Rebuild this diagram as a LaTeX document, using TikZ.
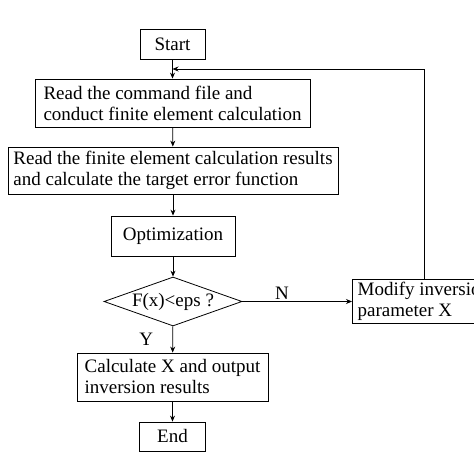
\documentclass[tikz,border=0pt]{standalone}
\usepackage{fontspec}
\setmainfont{Liberation Serif}
\usetikzlibrary{arrows.meta,shapes.geometric}

\begin{document}
\begin{tikzpicture}[x=10pt, y=10pt, >={Stealth[length=6pt,width=5pt]},
  every node/.style={font=\fontsize{19}{21}\selectfont},
  box/.style={draw, line width=0.8pt, align=left, inner sep=0pt},
  flow/.style={->, line width=0.8pt}]
  \clip (0,0) rectangle (47.4,47.4);

  % Main column of steps
  \node[box, minimum width=65pt, minimum height=30pt] (start) at (17.25,43.0) {Start};
  \node[box, minimum width=275pt, minimum height=48pt] (read) at (17.25,37.1)
    {Read the command file and\\conduct finite element calculation};
  \node[box, minimum width=330pt, minimum height=47pt] (res) at (17.3,30.35)
    {Read the finite element calculation results\\and calculate the target error function};
  \node[box, minimum width=124pt, minimum height=40pt] (opt) at (17.3,23.8) {Optimization};
  \node[draw, line width=0.8pt, diamond, aspect=2.8, inner sep=0pt,
    minimum width=138pt, minimum height=49pt] (test) at (17.3,17.25) {F(x)<eps ?};
  \node[box, minimum width=191pt, minimum height=48pt] (calc) at (17.25,9.7)
    {Calculate X and output\\inversion results};
  \node[box, minimum width=66pt, minimum height=29pt] (end) at (17.25,3.75) {End};

  % Branch on the right
  \node[box, anchor=west, minimum width=143pt, minimum height=44pt] (modify) at (35.2,17.25)
    {Modify inversion\\parameter X};
  \coordinate (join) at (17.25,40.5);

  % Connectors
  \draw[flow] (start) -- (read);
  \draw[flow] (read) -- (res);
  \draw[flow] (res) -- (opt);
  \draw[flow] (opt) -- (test);
  \draw[flow] (test) -- node[pos=0.36, above, inner sep=2pt] (nlab) {N} (modify);
  \draw[flow] (test) -- node[midway, left=16pt] (ylab) {Y} (calc);
  \draw[flow] (calc) -- (end);
  \draw[flow] (modify.north) |- (join);
\end{tikzpicture}
\end{document}
